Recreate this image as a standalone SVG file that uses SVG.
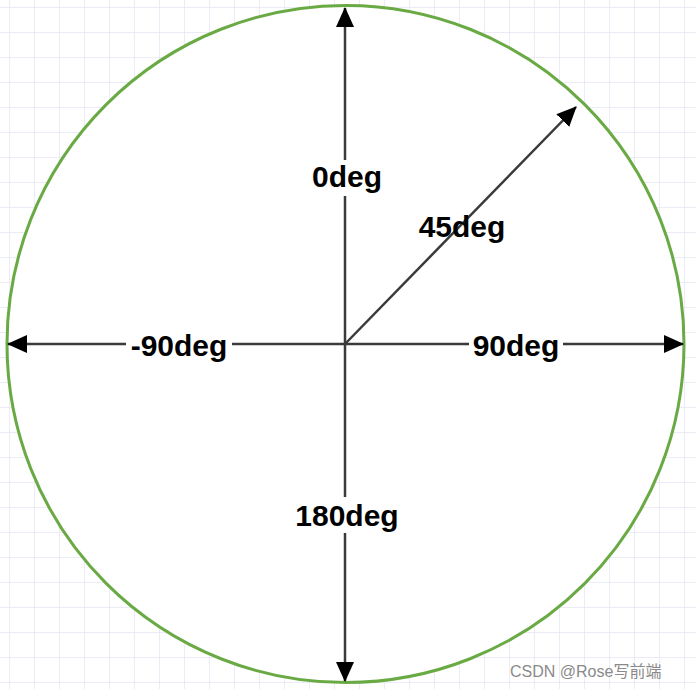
<svg xmlns="http://www.w3.org/2000/svg" width="696" height="689" viewBox="0 0 696 689">
<defs>
<pattern id="grid" x="9" y="7" width="25" height="25" patternUnits="userSpaceOnUse">
<path d="M0 0V25M0 0H25" fill="none" stroke="#e6e6f6" stroke-width="1.5"/>
</pattern>
<marker id="ah" viewBox="0 0 20 18" refX="19" refY="9" markerWidth="20" markerHeight="18" markerUnits="userSpaceOnUse" orient="auto">
<path d="M0 0L20 9L0 18Z" fill="#000"/>
</marker>
<style>
.ax{stroke:#3a3a3a;stroke-width:2.5;fill:none}
.lb{font-family:"Liberation Sans",Arial,sans-serif;font-weight:bold;font-size:30px;fill:#000;text-anchor:middle}
.bg{fill:#fff}
</style>
</defs>
<rect width="696" height="689" fill="#fff"/>
<rect width="696" height="689" fill="url(#grid)"/>
<g id="circle">
<circle cx="345.5" cy="344" r="338.5" fill="#fff" stroke="#6aaa45" stroke-width="3"/>
</g>
<g id="connectors">
<line class="ax" x1="345" y1="344" x2="345" y2="8" marker-end="url(#ah)"/>
<line class="ax" x1="345" y1="344" x2="345" y2="681" marker-end="url(#ah)"/>
<line class="ax" x1="345" y1="344" x2="8" y2="344" marker-end="url(#ah)"/>
<line class="ax" x1="345" y1="344" x2="683" y2="344" marker-end="url(#ah)"/>
<line class="ax" x1="345" y1="344" x2="576" y2="107" marker-end="url(#ah)"/>
</g>
<g id="label-0">
<rect class="bg" x="308" y="160" width="78" height="36"/>
<text class="lb" x="347" y="187">0deg</text>
</g>
<g id="label-45">
<text class="lb" x="462" y="237">45deg</text>
</g>
<g id="label-m90">
<rect class="bg" x="126" y="327" width="106" height="36"/>
<text class="lb" x="179" y="356">-90deg</text>
</g>
<g id="label-90">
<rect class="bg" x="469" y="327" width="94" height="36"/>
<text class="lb" x="516" y="356">90deg</text>
</g>
<g id="label-180">
<rect class="bg" x="293" y="497" width="108" height="36"/>
<text class="lb" x="347" y="526">180deg</text>
</g>
<text x="510" y="677" font-family="'Liberation Sans','Noto Sans CJK SC',sans-serif" font-size="16" fill="#8a8a8a">CSDN @Rose写前端</text>
</svg>
